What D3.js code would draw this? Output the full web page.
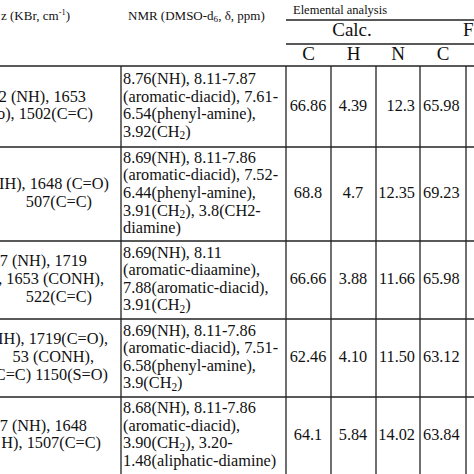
<!DOCTYPE html><html><head><meta charset="utf-8"><script src="https://cdn.jsdelivr.net/npm/d3@7"></script>
<style>body{margin:0;background:#fff}</style></head><body><svg id="c" width="474" height="474"></svg><script>
// data
const rowEdges=[66,147,241,319,397,474];
const colEdges=[121,286,331,376,420,466];
const irLines=[["2 (NH), 1653","o), 1502(C=C)"],["IH), 1648 (C=O)","507(C=C)"],["7 (NH), 1719",", 1653 (CONH),","522(C=C)"],["IH), 1719(C=O),","53 (CONH),","C=C) 1150(S=O)"],["7 (NH), 1648","H), 1507(C=C)"]];
const irEnds=[[86,93],[109,92],[87,104,92],[108,94,108],[87,101]];
const nmrLines=[["8.76(NH), 8.11-7.87","(aromatic-diacid), 7.61-","6.54(phenyl-amine),","3.92(CH_2)"],
["8.69(NH), 8.11-7.86","(aromatic-diacid), 7.52-","6.44(phenyl-amine),","3.91(CH_2), 3.8(CH2-","diamine)"],
["8.69(NH), 8.11","(aromatic-diaamine),","7.88(aromatic-diacid),","3.91(CH_2)"],
["8.69(NH), 8.11-7.86","(aromatic-diacid), 7.51-","6.58(phenyl-amine),","3.9(CH_2)"],
["8.68(NH), 8.11-7.86","(aromatic-diacid),","3.90(CH_2), 3.20-","1.48(aliphatic-diamine)"]];
const calcC=["66.86","68.8","66.66","62.46","64.1"];
const calcH=["4.39","4.7","3.88","4.10","5.84"];
const calcN=["12.3","12.35","11.66","11.50","14.02"];
const foundC=["65.98","69.23","65.98","63.12","63.84"];
const subHeads=["C","H","N","C"];

const svg=d3.select("#c");
const yRow=d3.scaleOrdinal().domain(d3.range(5)).range(d3.range(5).map(i=>(rowEdges[i]+rowEdges[i+1])/2));
const ln=(x1,y1,x2,y2)=>svg.append("line").attr("x1",x1).attr("y1",y1).attr("x2",x2).attr("y2",y2).attr("stroke","#222").attr("stroke-width",1.3);
rowEdges.slice(0,5).forEach(y=>ln(0,y,474,y));
ln(286,20,474,20);ln(286,44,474,44);
colEdges.forEach(x=>ln(x,66,x,474));
function addText(t,x,y,size,anchor){
  const el=svg.append("text").attr("x",x).attr("y",y).attr("font-size",size).attr("font-family","'Liberation Serif', serif").attr("fill","#111").attr("text-anchor",anchor||"start").attr("dominant-baseline","middle");
  t.split(/(_\d|\^[-\d]+)/).forEach(p=>{
    if(!p)return;
    if(p[0]==="_"){el.append("tspan").attr("font-size",size*0.7).attr("dy",size*0.22).text(p.slice(1));el.append("tspan").attr("dy",-size*0.22).text("\u200b");}
    else if(p[0]==="^"){el.append("tspan").attr("font-size",size*0.65).attr("dy",-size*0.3).text(p.slice(1));el.append("tspan").attr("dy",size*0.3).text("\u200b");}
    else el.append("tspan").text(p);
  });
  return el;
}
addText("z (KBr, cm^-1)",70,17,13,"end");
addText("NMR (DMSO-d_6, δ, ppm)",128,17,13);
addText("Elemental analysis",293,11,12.5);
addText("Calc.",352,32,19,"middle");
addText("F",463,32,19);
subHeads.forEach((s,i)=>addText(s,(colEdges[i+1]+colEdges[i+2])/2,56,19,"middle"));
const lh=17.6,fs=16.3;
d3.range(5).forEach(i=>{
  const c=yRow(i);
  const n=nmrLines[i];
  n.forEach((t,j)=>addText(t,123,c+(j-(n.length-1)/2)*lh,fs));
  const ir=irLines[i];
  ir.forEach((t,j)=>addText(t,irEnds[i][j],c+(j-(ir.length-1)/2)*lh,fs,"end"));
  addText(calcC[i],308,c,fs,"middle");
  addText(calcH[i],353,c,fs,"middle");
  addText(calcN[i],415,c,fs,"end");
  addText(foundC[i],423,c,fs);
});
</script></body></html>
